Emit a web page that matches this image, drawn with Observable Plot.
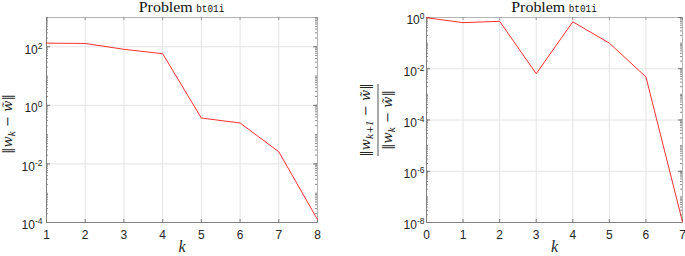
<!DOCTYPE html>
<html><head><meta charset="utf-8">
<script src="https://cdn.jsdelivr.net/npm/d3@7"></script>
<script src="https://cdn.jsdelivr.net/npm/@observablehq/plot@0.6"></script>
<style>
body{margin:0;background:#fff}
#wrap{position:relative;width:685px;height:256px;overflow:hidden;background:#fff}
#wrap svg{position:absolute;top:0}
</style></head><body><div id="wrap"></div>
<script>
// Left panel: ||w_k - w~|| vs k
const kLeft = [1, 2, 3, 4, 5, 6, 7, 8];
const errLeft = [133, 130, 82, 58, 0.37, 0.25, 0.026, 1.26e-4];
const yTicksLeft = [1e-4, 1e-2, 1, 1e2];
// Right panel: ratio vs k
const kRight = [0, 1, 2, 3, 4, 5, 6, 7];
const ratioRight = [0.98, 0.63, 0.71, 0.0064, 0.68, 0.10, 0.0048, 1.05e-8];
const yTicksRight = [1e-8, 1e-6, 1e-4, 1e-2, 1];
const titleWord = "Problem";
const titleCode = "bt01i";
const xLabel = "k";

const SANS = "'Liberation Sans', Arial, Helvetica, sans-serif";
const SERIF = "'Liberation Serif', 'DejaVu Serif', serif";
const MATH = "'DejaVu Serif', 'Liberation Serif', serif";
const MONO = "'Liberation Mono', 'DejaVu Sans Mono', monospace";

function decadeMinors(dom) {
  const lo = Math.round(Math.log10(dom[0])), hi = Math.round(Math.log10(dom[1]));
  const out = [];
  for (let e = lo; e < hi; e++) for (let m = 2; m < 10; m++) out.push(m * Math.pow(10, e));
  for (let e = lo; e <= hi; e++) out.push(Math.pow(10, e));
  return out;
}

function panel(o) {
  const H = 256, mT = 17, mB = 34;
  const pw = o.width - o.marginLeft - o.marginRight, ph = H - mT - mB;
  const data = o.k.map((d, i) => ({k: d, v: o.v[i]}));
  const minors = decadeMinors(o.yDomain);
  const grid = "#e4e4e4", tick = "#8c8c8c";
  const svg = Plot.plot({
    width: o.width, height: H,
    marginLeft: o.marginLeft, marginRight: o.marginRight, marginTop: mT, marginBottom: mB,
    style: {fontFamily: SANS, fontSize: "12px", color: "#262626", background: "transparent", overflow: "visible"},
    x: {domain: o.xDomain},
    y: {type: "log", domain: o.yDomain},
    marks: [
      Plot.gridX(o.k, {stroke: grid, strokeOpacity: 1}),
      Plot.gridY(o.yTicks, {stroke: grid, strokeOpacity: 1}),
      Plot.frame({stroke: "#b4b4b4"}),
      Plot.tickY(minors, {insetRight: pw - 2, stroke: tick}),
      Plot.tickY(minors, {insetLeft: pw - 2, stroke: tick}),
      Plot.tickY(o.yTicks, {insetRight: pw - 4, stroke: "#777"}),
      Plot.tickY(o.yTicks, {insetLeft: pw - 4, stroke: "#777"}),
      Plot.tickX(o.k, {insetTop: ph - 3, stroke: "#777"}),
      Plot.tickX(o.k, {insetBottom: ph - 3, stroke: "#999"}),
      Plot.ruleX([o.xDomain[0]], {stroke: "#808080"}),
      Plot.ruleY([o.yDomain[0]], {stroke: "#808080"}),
      Plot.line(data, {x: "k", y: "v", stroke: "#ff1a1a", strokeWidth: 0.9}),
      Plot.axisX({ticks: o.k, tickSize: 0, tickPadding: 8, label: null, tickFormat: d => String(d)}),
      Plot.axisY({ticks: o.yTicks, tickSize: 0, tickPadding: o.yPad, dy: 3, label: null,
                  tickFormat: d => "10^" + Math.round(Math.log10(d))}),
      Plot.text([xLabel], {frameAnchor: "bottom", dy: 29, fontFamily: "'Liberation Serif', serif", fontStyle: "italic", fontSize: 16, fill: "#262626"})
    ]
  });
  const s = d3.select(svg);
  // superscripts
  s.selectAll('g[aria-label="y-axis tick label"] text').each(function () {
    const t = this.textContent;
    if (!t.includes("^")) return;
    const [b, e] = t.split("^");
    const el = d3.select(this);
    el.text(null);
    el.append("tspan").text(b);
    el.append("tspan").attr("dy", -5).attr("font-size", "8.5px").text(e);
  });
  // title
  const cx = o.marginLeft + pw / 2;
  const tt = s.append("text").attr("x", cx).attr("y", 12).attr("text-anchor", "middle").attr("fill", "#111");
  tt.append("tspan").attr("font-family", SERIF).attr("font-size", "14px")
    .attr("textLength", 54).attr("lengthAdjust", "spacingAndGlyphs").text(titleWord);
  tt.append("tspan").attr("font-family", SERIF).attr("font-size", "14px").text(" ");
  tt.append("tspan").attr("font-family", MONO).attr("font-size", "11.5px")
    .attr("textLength", 28).attr("lengthAdjust", "spacingAndGlyphs").text(titleCode);
  o.decorate(s);
  svg.style.left = o.left + "px";
  document.getElementById("wrap").appendChild(svg);
}

function normText(g, x, y, sub, size) {
  const t = g.append("text").attr("x", x).attr("y", y).attr("text-anchor", "middle")
    .attr("font-family", MATH).attr("font-size", size + "px").attr("fill", "#262626");
  t.append("tspan").text("\u2016");
  t.append("tspan").attr("font-style", "italic").text("w");
  t.append("tspan").attr("font-style", "italic").attr("font-size", (size * 0.7) + "px").attr("dy", 3).text(sub);
  t.append("tspan").attr("dy", -3).text(" \u2212 ");
  t.append("tspan").attr("font-style", "italic").text("w\u0303");
  t.append("tspan").text("\u2016");
  return t;
}

panel({
  k: kLeft, v: errLeft, xDomain: [1, 8], yDomain: [1e-4, 1e3], yTicks: yTicksLeft,
  width: 343, marginLeft: 46, marginRight: 26, left: 0, yPad: 4,
  decorate: s => {
    const g = s.append("g").attr("transform", "translate(12,124) rotate(-90)");
    normText(g, 0, 0, "k", 13);
  }
});
panel({
  k: kRight, v: ratioRight, xDomain: [0, 7], yDomain: [1e-8, 1], yTicks: yTicksRight,
  width: 342, marginLeft: 83, marginRight: 3, left: 343, yPad: 2,
  decorate: s => {
    const g = s.append("g").attr("transform", "translate(35,120) rotate(-90)");
    normText(g, 0, -8, "k+1", 13);
    normText(g, 0, 14, "k", 13);
    g.append("line").attr("x1", -36).attr("x2", 36).attr("y1", 0).attr("y2", 0)
      .attr("stroke", "#262626").attr("stroke-width", 0.8);
  }
});
</script></body></html>
